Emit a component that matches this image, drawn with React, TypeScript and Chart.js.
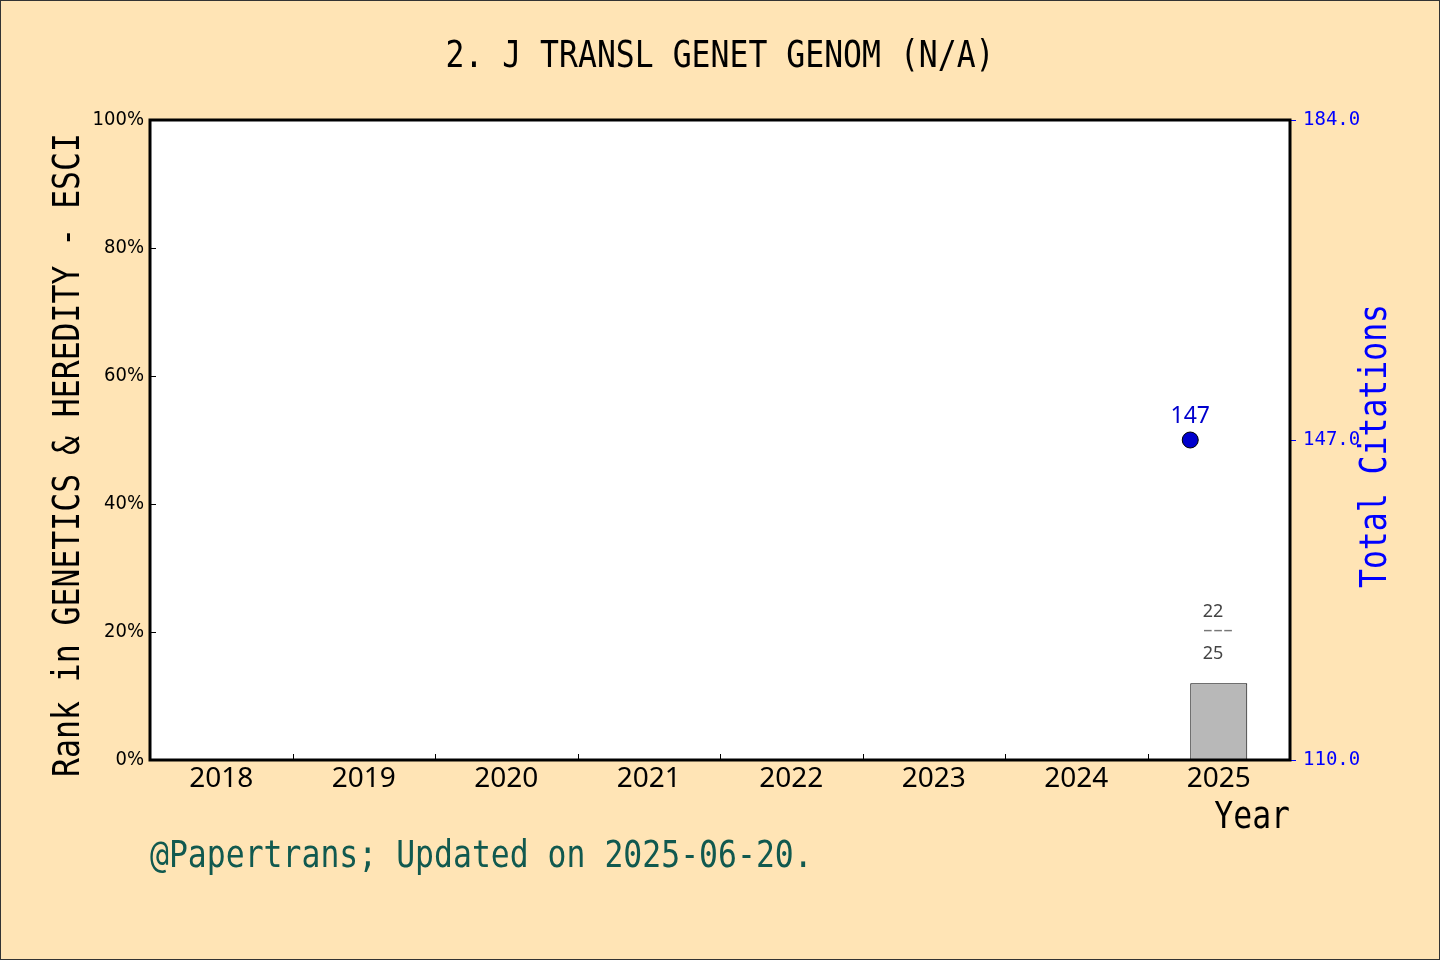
import React, { useEffect, useRef } from 'react';
import { Chart, registerables } from 'chart.js';

Chart.register(...registerables);

// data
const years = ['2018', '2019', '2020', '2021', '2022', '2023', '2024', '2025'];
const ranks: (number | null)[] = [null, null, null, null, null, null, null, 22];
const totals: (number | null)[] = [null, null, null, null, null, null, null, 25];
const citations: (number | null)[] = [null, null, null, null, null, null, null, 147];
const leftTicks = [0, 20, 40, 60, 80, 100];
const rightTicks = [110.0, 147.0, 184.0];

const titleText = '2. J TRANSL GENET GENOM (N/A)';
const yTitle = 'Rank in GENETICS & HEREDITY - ESCI';
const y2Title = 'Total Citations';
const xTitle = 'Year';
const footer = '@Papertrans; Updated on 2025-06-20.';

const BG = '#FFE4B5';
const MONO = "'DejaVu Sans Mono', monospace";

const rankPct = ranks.map((r, i) => (r == null || totals[i] == null ? null : (1 - r / (totals[i] as number)) * 100));
const citePoints = citations
    .map((c, i) => (c == null ? null : { x: i - 0.2, y: c }))
    .filter(p => p !== null);

// draws text squeezed (or stretched) horizontally, like the narrow half-width font of the original
function squeezed(ctx: CanvasRenderingContext2D, text: string, x: number, y: number, align: CanvasTextAlign, rot = 0, sx = 0.85) {
    ctx.save();
    ctx.translate(x, y);
    if (rot) ctx.rotate(rot);
    ctx.scale(sx, 1);
    ctx.textAlign = align;
    ctx.textBaseline = 'alphabetic';
    ctx.fillText(text, 0, 0);
    ctx.restore();
}

const decor = {
    id: 'decor',
    beforeDraw(chart: any) {
        const { ctx, chartArea: a, width, height } = chart;
        ctx.save();
        ctx.fillStyle = BG;
        ctx.fillRect(0, 0, width, height);
        ctx.strokeStyle = '#333';
        ctx.lineWidth = 1;
        ctx.strokeRect(0.5, 0.5, width - 1, height - 1);
        ctx.fillStyle = '#fff';
        ctx.fillRect(a.left, a.top, a.right - a.left, a.bottom - a.top);
        ctx.restore();
    },
    afterDraw(chart: any) {
        const { ctx, chartArea: a, scales } = chart;
        ctx.save();
        // inward ticks
        ctx.strokeStyle = '#000';
        ctx.lineWidth = 1;
        const half = (scales.x.getPixelForValue(1) - scales.x.getPixelForValue(0)) / 2;
        for (let i = 1; i < years.length; i++) {
            const px = Math.round(scales.x.getPixelForValue(i) - half) + 0.5;
            ctx.beginPath();
            ctx.moveTo(px, a.bottom);
            ctx.lineTo(px, a.bottom - 6);
            ctx.stroke();
        }
        leftTicks.forEach(v => {
            const py = Math.round(scales.y.getPixelForValue(v)) + 0.5;
            ctx.beginPath();
            ctx.moveTo(a.left, py);
            ctx.lineTo(a.left + 6, py);
            ctx.stroke();
        });
        // plot frame
        ctx.lineWidth = 3;
        ctx.strokeRect(a.left, a.top, a.right - a.left, a.bottom - a.top);

        // bar labels
        const barMeta = chart.getDatasetMeta(0);
        ctx.textAlign = 'left';
        ctx.textBaseline = 'alphabetic';
        rankPct.forEach((v, i) => {
            if (v == null) return;
            const el = barMeta.data[i];
            const lx = el.x - 16;
            ctx.font = "18px 'Noto Sans', sans-serif";
            ctx.fillStyle = '#444';
            ctx.fillText(String(ranks[i]), lx, el.y - 66);
            ctx.fillText(String(totals[i]), lx, el.y - 24);
            ctx.fillStyle = '#777';
            squeezed(ctx, '---', lx, el.y - 47, 'left', 0, 1.75);
        });

        // citation labels
        const ptMeta = chart.getDatasetMeta(1);
        ctx.font = "23px 'Noto Sans', sans-serif";
        ctx.fillStyle = '#0000cd';
        ctx.textAlign = 'center';
        ptMeta.data.forEach((el: any, k: number) => {
            ctx.fillText(String(citePoints[k]!.y), el.x, el.y - 17);
        });

        // titles
        ctx.font = `37px ${MONO}`;
        ctx.fillStyle = '#000';
        squeezed(ctx, titleText, 720, 67, 'center');
        squeezed(ctx, yTitle, 79, 455, 'center', -Math.PI / 2);
        squeezed(ctx, xTitle, a.right, 828, 'right');
        ctx.fillStyle = '#0000ff';
        squeezed(ctx, y2Title, 1386, 446, 'center', -Math.PI / 2);
        ctx.fillStyle = '#11594f';
        squeezed(ctx, footer, a.left, 867, 'left');
        ctx.restore();
    },
};

const App: React.FC = () => {
    const chartRef = useRef<HTMLCanvasElement>(null);

    useEffect(() => {
        if (!chartRef.current) return;
        const chart = new Chart(chartRef.current, {
            type: 'bar',
            data: {
                labels: years,
                datasets: [
                    {
                        type: 'bar',
                        data: rankPct,
                        backgroundColor: '#b8b8b8',
                        borderColor: '#000',
                        borderWidth: 1,
                        barPercentage: 0.4,
                        categoryPercentage: 1,
                        grouped: false,
                        xAxisID: 'x',
                        yAxisID: 'y',
                    },
                    {
                        type: 'scatter',
                        data: citePoints as any,
                        backgroundColor: '#0000cd',
                        borderColor: '#000',
                        borderWidth: 1,
                        pointRadius: 8,
                        xAxisID: 'x2',
                        yAxisID: 'y2',
                    },
                ],
            } as any,
            options: {
                animation: false,
                responsive: true,
                maintainAspectRatio: false,
                layout: { padding: { top: 120, left: 0, right: 0, bottom: 0 } },
                plugins: { legend: { display: false }, tooltip: { enabled: false }, title: { display: false } },
                scales: {
                    x: {
                        type: 'category',
                        offset: true,
                        grid: { display: false },
                        border: { display: false },
                        ticks: { color: '#000', font: { family: "'Noto Sans', sans-serif", size: 28 }, padding: -6, maxRotation: 0 },
                        afterFit: (s: any) => { s.height = 200; },
                    },
                    x2: { type: 'linear', position: 'bottom', min: -0.5, max: 7.5, offset: false, display: false },
                    y: {
                        position: 'left',
                        min: 0,
                        max: 100,
                        grid: { display: false },
                        border: { display: false },
                        afterBuildTicks: (s: any) => { s.ticks = leftTicks.map(v => ({ value: v })); },
                        ticks: {
                            color: '#000',
                            font: { family: "'DejaVu Sans Condensed', 'DejaVu Sans', sans-serif", size: 20 },
                            padding: -2,
                            callback: (v: any) => v + '%',
                        },
                        afterFit: (s: any) => { s.width = 150; },
                    },
                    y2: {
                        position: 'right',
                        min: 110,
                        max: 184,
                        grid: { display: true, drawOnChartArea: false, drawTicks: true, tickLength: 6, color: '#0000ff' },
                        border: { display: false },
                        afterBuildTicks: (s: any) => { s.ticks = rightTicks.map(v => ({ value: v })); },
                        ticks: {
                            color: '#0000ff',
                            font: { family: MONO, size: 19 },
                            padding: 7,
                            callback: (v: any) => Number(v).toFixed(1),
                        },
                        afterFit: (s: any) => { s.width = 150; },
                    },
                },
            } as any,
            plugins: [decor],
        });
        return () => chart.destroy();
    }, []);

    return (
        <div style={{ position: 'absolute', left: 0, top: 0, width: 1440, height: 960 }}>
            <canvas ref={chartRef}></canvas>
        </div>
    );
};

export default App;
